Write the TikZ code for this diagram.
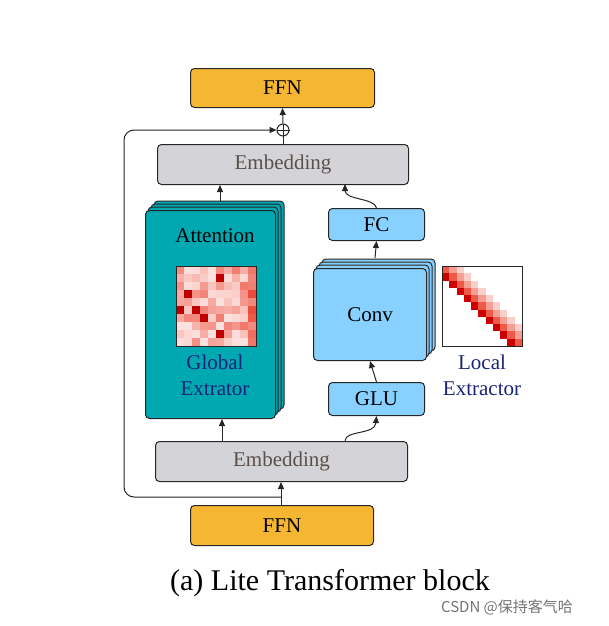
\documentclass[tikz,border=0pt]{standalone}
\usepackage{fontspec}
\setmainfont{Liberation Serif}
\newfontfamily\cjk{Noto Sans CJK SC}
\usetikzlibrary{arrows.meta}
\definecolor{ffn}{RGB}{245,183,49}
\definecolor{emb}{RGB}{212,212,216}
\definecolor{teal}{RGB}{0,168,178}
\definecolor{lblue}{RGB}{135,208,255}
\definecolor{navy}{RGB}{25,35,120}
\definecolor{embtxt}{RGB}{90,80,75}
\definecolor{hot}{RGB}{235,60,40}
\begin{document}
\begin{tikzpicture}[x=1pt,y=-1pt,
  box/.style={draw=black!85,line width=1pt,rounded corners=4pt,inner sep=0pt,anchor=north west},
  ar/.style={-{Triangle[length=7pt,width=6pt]},line width=1pt,black!85},
  ln/.style={line width=1pt,black!85},
  big/.style={font=\fontsize{21}{21}\selectfont}]
\useasboundingbox (0,0) rectangle (608,626);
\node[box,big,fill=ffn,minimum width=184pt,minimum height=39pt] (ffnT) at (190,68) {FFN};
\node[box,big,fill=ffn,minimum width=183pt,minimum height=40pt] (ffnB) at (190,505) {FFN};
\node[box,big,fill=emb,minimum width=251pt,minimum height=40pt,text=embtxt] (embT) at (157,144) {Embedding};
\node[box,big,fill=emb,minimum width=252pt,minimum height=40pt,text=embtxt] (embB) at (155,441) {Embedding};
% attention stack
\foreach \o in {9,6,3}{\draw[box,fill=teal] (145+\o,210-\o) rectangle (275+\o,418-\o);}
\node[box,fill=teal,minimum width=130pt,minimum height=208pt] (att) at (145,210) {};
\node[big] (attT) at (215,236) {Attention};
\node[big,text=navy] (glob1) at (215,362) {Global};
\node[big,text=navy] (glob2) at (215,389) {Extrator};
% heat map
\pgfmathsetseed{7}
\foreach \i in {0,...,9}{\foreach \j in {0,...,9}{
  \pgfmathsetmacro\v{int(15+55*rnd^1.5)}
  \ifnum\j=9 \pgfmathsetmacro\v{int(55+40*rnd)}\fi
  \fill[hot!\v!white] (176+8*\j,266+8*\i) rectangle ++(8,8);}}
\pgfmathsetseed{11}
\foreach \n in {1,...,6}{\pgfmathsetmacro\a{int(9*rnd)}\pgfmathsetmacro\b{int(9*rnd)}
  \fill[red!75!black] (176+8*\a,266+8*\b) rectangle ++(8,8);}
\node[draw=black!85,line width=1pt,minimum size=80pt,inner sep=0pt,anchor=north west] (hm) at (176,266) {};
% conv stack
\foreach \o in {9,6,3}{\draw[box,fill=lblue] (313+\o,268-\o) rectangle (426+\o,360-\o);}
\node[box,big,fill=lblue,minimum width=113pt,minimum height=92pt] (conv) at (313,268) {Conv};
\node[box,big,fill=lblue,minimum width=96pt,minimum height=32pt] (fc) at (328,208) {FC};
\node[box,big,fill=lblue,minimum width=96pt,minimum height=33pt] (glu) at (328,382) {GLU};
% local matrix
\foreach \i in {0,...,10}{\foreach \j in {0,...,10}{
  \pgfmathtruncatemacro\d{\j-\i}
  \ifnum\d=-1 \fill[red!80!black] (442+7.27*\j,266+7.27*\i) rectangle ++(7.27,7.27);\fi
  \ifnum\d=0 \fill[hot!85] (442+7.27*\j,266+7.27*\i) rectangle ++(7.27,7.27);\fi
  \ifnum\d=1 \fill[hot!50] (442+7.27*\j,266+7.27*\i) rectangle ++(7.27,7.27);\fi
  \ifnum\d=2 \fill[hot!25] (442+7.27*\j,266+7.27*\i) rectangle ++(7.27,7.27);\fi}}
\node[draw=black!85,line width=1pt,minimum size=80pt,inner sep=0pt,anchor=north west] (lm) at (442,266) {};
\node[big,text=navy] (loc1) at (482,362) {Local};
\node[big,text=navy] (loc2) at (482,389) {Extractor};
% connectors
\node[draw=black!85,line width=1pt,circle,minimum size=12pt,inner sep=0pt] (plus) at (283,130) {};
\draw[ln] (plus.north)--(plus.south) (plus.west)--(plus.east);
\draw[ar] (plus.north)--(ffnT.south);
\draw[ln] (embT.north-|plus)--(plus.south);
\coordinate (lp) at (281,497);
\draw[ar,rounded corners=10pt] (lp)--(124,497)--(124,130)--(plus.west);
\draw[ar] (ffnB.north-|lp)--(embB.south-|lp);
\draw[ar] (embB.north-|222,0)--(att.south-|222,0);
\draw[ar] (220,201)--(embT.south-|220,0);
\draw[ar] (fc.north) .. controls (375,198) and (345,200) .. (345,184);
\draw[ar] (375,258)--(fc.south);
\draw[ar] (glu.north)--(conv.south);
\draw[ar] (345,441) .. controls (345,430) and (375,435) .. (glu.south);
\node[font=\fontsize{30}{30}\selectfont] (cap) at (330,583) {(a) Lite Transformer block};
\node[text=black!55,font=\cjk\fontsize{15}{15}\selectfont] (wm) at (507,607) {CSDN @保持客气哈};
\end{tikzpicture}
\end{document}
